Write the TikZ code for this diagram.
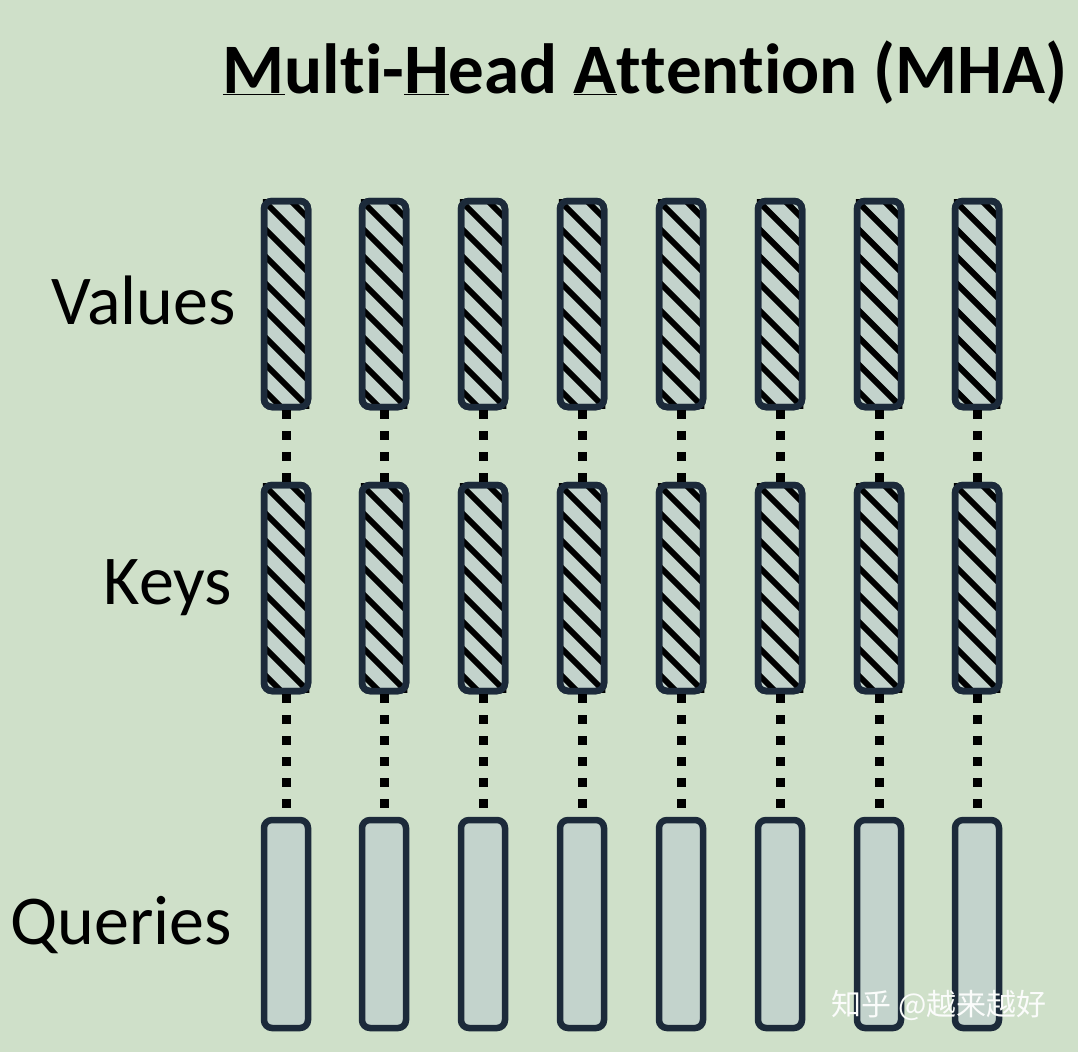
\documentclass[tikz,border=0pt]{standalone}
\usepackage{fontspec}
\setmainfont{Carlito}[Ligatures=NoCommon]
\newfontfamily\cjk{Noto Sans CJK SC}
\definecolor{bg}{HTML}{CFE0C9}
\definecolor{barfill}{HTML}{C3D3CC}
\definecolor{edge}{HTML}{1C2A3A}
\begin{document}
\begin{tikzpicture}[x=1pt,y=-1pt,
  bar/.style={draw=edge,line width=6.5pt,fill=barfill,rounded corners=8pt,minimum width=44pt,inner sep=0pt},
  vbar/.style={bar,minimum height=206pt},
  lab/.style={anchor=east,font=\fontsize{70}{70}\selectfont,inner sep=0pt},
  dots/.style={line width=9pt,dash pattern=on 9pt off 12pt}]
\fill[bg] (0,0) rectangle (1078,1052);
\useasboundingbox (0,0) rectangle (1078,1052);
\node[anchor=base east,font=\fontsize{71}{71}\selectfont\bfseries,inner sep=0pt] (title) at (1068,93) {\underline{M}ulti-\underline{H}ead \underline{A}t\kern0ptt\kern0ptention (MHA)};
\node[lab] (lv) at (236,300) {Values};
\node[lab] (lk) at (232,588) {Keys};
\node[lab] (lq) at (232,925) {Queries};
\foreach \i/\x in {1/286,2/384,3/483,4/582,5/681,6/780,7/879,8/977}{
  \foreach \r/\y in {v/304,k/588}{
    \node[vbar] (\r\i) at (\x,\y) {};
    \begin{scope}
      \clip ([xshift=2pt,yshift=-2pt]\r\i.north west) rectangle ([xshift=-2pt,yshift=2pt]\r\i.south east);
      \foreach \t in {-60,-33,...,240}{
        \draw[line width=6pt] (\x-30,\y-105+\t) -- (\x+30,\y-45+\t);
      }
    \end{scope}
    \node[vbar,fill=none] at (\x,\y) {};
  }
  \node[vbar,minimum height=208pt] (q\i) at (\x,924) {};
  \draw[dots] (v\i.south) -- (k\i.north);
  \draw[dots] (k\i.south) -- (q\i.north);
}
\node[anchor=east,font=\cjk\fontsize{30}{30}\selectfont,text=white!92!bg] (wm) at (1050,1005) {知乎 @越来越好};
\end{tikzpicture}
\end{document}
